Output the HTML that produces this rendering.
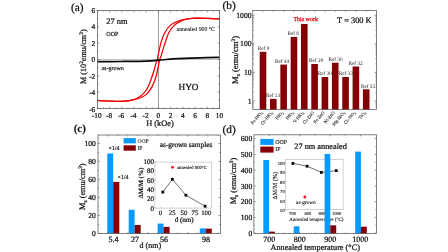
<!DOCTYPE html>
<html lang="en">
<head>
<meta charset="utf-8">
<title>Figure</title>
<style>
html,body{margin:0;padding:0;background:#fff;}
body{width:448px;height:252px;overflow:hidden;font-family:"Liberation Serif",serif;}
svg{display:block;}
</style>
</head>
<body>
<svg width="448" height="252" viewBox="0 0 448 252" font-family="'Liberation Serif', 'Times New Roman', serif" text-rendering="geometricPrecision">
<line x1="97.40" y1="59.50" x2="219.50" y2="59.50" stroke="#aaa" stroke-width="0.7"/>
<line x1="158.45" y1="10.50" x2="158.45" y2="108.50" stroke="#666" stroke-width="0.65"/>
<path d="M219.40,18.90 C217.50,18.82 211.73,18.53 208.00,18.40 C204.27,18.27 200.40,18.02 197.00,18.10 C193.60,18.18 190.75,18.42 187.60,18.90 C184.45,19.38 180.95,19.97 178.10,21.00 C175.25,22.03 172.72,23.13 170.50,25.10 C168.28,27.07 166.38,29.93 164.80,32.80 C163.22,35.67 162.25,37.88 161.00,42.30 C159.75,46.72 158.10,55.92 157.30,59.30 C156.50,62.68 156.85,60.40 156.20,62.60 C155.55,64.80 154.67,68.63 153.40,72.50 C152.13,76.37 150.18,82.35 148.60,85.80 C147.02,89.25 145.80,91.13 143.90,93.20 C142.00,95.27 139.58,96.97 137.20,98.20 C134.82,99.43 132.47,100.07 129.60,100.60 C126.73,101.13 123.60,101.33 120.00,101.40 C116.40,101.47 111.78,101.17 108.00,101.00 C104.22,100.83 99.08,100.50 97.30,100.40" fill="none" stroke="#f00000" stroke-width="1.25" stroke-linejoin="round"/>
<path d="M97.40,100.40 C99.17,100.50 104.23,100.83 108.00,101.00 C111.77,101.17 116.45,101.47 120.00,101.40 C123.55,101.33 126.17,101.08 129.30,100.60 C132.43,100.12 135.95,99.53 138.80,98.50 C141.65,97.47 144.18,96.38 146.40,94.40 C148.62,92.42 150.52,89.50 152.10,86.60 C153.68,83.70 154.63,81.43 155.90,77.00 C157.17,72.57 158.83,63.50 159.70,60.00 C160.57,56.50 160.38,58.32 161.10,56.00 C161.82,53.68 162.72,49.97 164.00,46.10 C165.28,42.23 167.22,36.13 168.80,32.80 C170.38,29.47 171.60,28.00 173.50,26.10 C175.40,24.20 177.82,22.58 180.20,21.40 C182.58,20.22 185.00,19.55 187.80,19.00 C190.60,18.45 193.63,18.20 197.00,18.10 C200.37,18.00 204.25,18.27 208.00,18.40 C211.75,18.53 217.58,18.82 219.50,18.90" fill="none" stroke="#f00000" stroke-width="1.25" stroke-linejoin="round"/>
<path d="M97.40,61.60 C101.17,61.58 112.90,61.55 120.00,61.50 C127.10,61.45 134.67,61.42 140.00,61.30 C145.33,61.18 148.90,60.98 152.00,60.80 C155.10,60.62 156.27,60.42 158.60,60.20 C160.93,59.98 162.77,59.75 166.00,59.50 C169.23,59.25 172.33,58.97 178.00,58.70 C183.67,58.43 193.08,58.12 200.00,57.90 C206.92,57.68 216.25,57.48 219.50,57.40" fill="none" stroke="#0a0a0a" stroke-width="1.7"/>
<rect x="97.40" y="10.50" width="122.10" height="98.00" fill="none" stroke="#555" stroke-width="0.75"/>
<line x1="97.40" y1="108.50" x2="97.40" y2="106.70" stroke="#555" stroke-width="0.6"/>
<line x1="97.40" y1="10.50" x2="97.40" y2="12.30" stroke="#555" stroke-width="0.6"/>
<line x1="103.50" y1="108.50" x2="103.50" y2="107.40" stroke="#555" stroke-width="0.6"/>
<line x1="103.50" y1="10.50" x2="103.50" y2="11.60" stroke="#555" stroke-width="0.6"/>
<line x1="109.61" y1="108.50" x2="109.61" y2="106.70" stroke="#555" stroke-width="0.6"/>
<line x1="109.61" y1="10.50" x2="109.61" y2="12.30" stroke="#555" stroke-width="0.6"/>
<line x1="115.71" y1="108.50" x2="115.71" y2="107.40" stroke="#555" stroke-width="0.6"/>
<line x1="115.71" y1="10.50" x2="115.71" y2="11.60" stroke="#555" stroke-width="0.6"/>
<line x1="121.82" y1="108.50" x2="121.82" y2="106.70" stroke="#555" stroke-width="0.6"/>
<line x1="121.82" y1="10.50" x2="121.82" y2="12.30" stroke="#555" stroke-width="0.6"/>
<line x1="127.92" y1="108.50" x2="127.92" y2="107.40" stroke="#555" stroke-width="0.6"/>
<line x1="127.92" y1="10.50" x2="127.92" y2="11.60" stroke="#555" stroke-width="0.6"/>
<line x1="134.03" y1="108.50" x2="134.03" y2="106.70" stroke="#555" stroke-width="0.6"/>
<line x1="134.03" y1="10.50" x2="134.03" y2="12.30" stroke="#555" stroke-width="0.6"/>
<line x1="140.13" y1="108.50" x2="140.13" y2="107.40" stroke="#555" stroke-width="0.6"/>
<line x1="140.13" y1="10.50" x2="140.13" y2="11.60" stroke="#555" stroke-width="0.6"/>
<line x1="146.24" y1="108.50" x2="146.24" y2="106.70" stroke="#555" stroke-width="0.6"/>
<line x1="146.24" y1="10.50" x2="146.24" y2="12.30" stroke="#555" stroke-width="0.6"/>
<line x1="152.34" y1="108.50" x2="152.34" y2="107.40" stroke="#555" stroke-width="0.6"/>
<line x1="152.34" y1="10.50" x2="152.34" y2="11.60" stroke="#555" stroke-width="0.6"/>
<line x1="158.45" y1="108.50" x2="158.45" y2="106.70" stroke="#555" stroke-width="0.6"/>
<line x1="158.45" y1="10.50" x2="158.45" y2="12.30" stroke="#555" stroke-width="0.6"/>
<line x1="164.55" y1="108.50" x2="164.55" y2="107.40" stroke="#555" stroke-width="0.6"/>
<line x1="164.55" y1="10.50" x2="164.55" y2="11.60" stroke="#555" stroke-width="0.6"/>
<line x1="170.66" y1="108.50" x2="170.66" y2="106.70" stroke="#555" stroke-width="0.6"/>
<line x1="170.66" y1="10.50" x2="170.66" y2="12.30" stroke="#555" stroke-width="0.6"/>
<line x1="176.76" y1="108.50" x2="176.76" y2="107.40" stroke="#555" stroke-width="0.6"/>
<line x1="176.76" y1="10.50" x2="176.76" y2="11.60" stroke="#555" stroke-width="0.6"/>
<line x1="182.87" y1="108.50" x2="182.87" y2="106.70" stroke="#555" stroke-width="0.6"/>
<line x1="182.87" y1="10.50" x2="182.87" y2="12.30" stroke="#555" stroke-width="0.6"/>
<line x1="188.97" y1="108.50" x2="188.97" y2="107.40" stroke="#555" stroke-width="0.6"/>
<line x1="188.97" y1="10.50" x2="188.97" y2="11.60" stroke="#555" stroke-width="0.6"/>
<line x1="195.08" y1="108.50" x2="195.08" y2="106.70" stroke="#555" stroke-width="0.6"/>
<line x1="195.08" y1="10.50" x2="195.08" y2="12.30" stroke="#555" stroke-width="0.6"/>
<line x1="201.19" y1="108.50" x2="201.19" y2="107.40" stroke="#555" stroke-width="0.6"/>
<line x1="201.19" y1="10.50" x2="201.19" y2="11.60" stroke="#555" stroke-width="0.6"/>
<line x1="207.29" y1="108.50" x2="207.29" y2="106.70" stroke="#555" stroke-width="0.6"/>
<line x1="207.29" y1="10.50" x2="207.29" y2="12.30" stroke="#555" stroke-width="0.6"/>
<line x1="213.39" y1="108.50" x2="213.39" y2="107.40" stroke="#555" stroke-width="0.6"/>
<line x1="213.39" y1="10.50" x2="213.39" y2="11.60" stroke="#555" stroke-width="0.6"/>
<line x1="219.50" y1="108.50" x2="219.50" y2="106.70" stroke="#555" stroke-width="0.6"/>
<line x1="219.50" y1="10.50" x2="219.50" y2="12.30" stroke="#555" stroke-width="0.6"/>
<line x1="97.40" y1="108.50" x2="99.20" y2="108.50" stroke="#555" stroke-width="0.6"/>
<line x1="219.50" y1="108.50" x2="217.70" y2="108.50" stroke="#555" stroke-width="0.6"/>
<line x1="97.40" y1="100.33" x2="98.50" y2="100.33" stroke="#555" stroke-width="0.6"/>
<line x1="219.50" y1="100.33" x2="218.40" y2="100.33" stroke="#555" stroke-width="0.6"/>
<line x1="97.40" y1="92.17" x2="99.20" y2="92.17" stroke="#555" stroke-width="0.6"/>
<line x1="219.50" y1="92.17" x2="217.70" y2="92.17" stroke="#555" stroke-width="0.6"/>
<line x1="97.40" y1="84.00" x2="98.50" y2="84.00" stroke="#555" stroke-width="0.6"/>
<line x1="219.50" y1="84.00" x2="218.40" y2="84.00" stroke="#555" stroke-width="0.6"/>
<line x1="97.40" y1="75.83" x2="99.20" y2="75.83" stroke="#555" stroke-width="0.6"/>
<line x1="219.50" y1="75.83" x2="217.70" y2="75.83" stroke="#555" stroke-width="0.6"/>
<line x1="97.40" y1="67.67" x2="98.50" y2="67.67" stroke="#555" stroke-width="0.6"/>
<line x1="219.50" y1="67.67" x2="218.40" y2="67.67" stroke="#555" stroke-width="0.6"/>
<line x1="97.40" y1="59.50" x2="99.20" y2="59.50" stroke="#555" stroke-width="0.6"/>
<line x1="219.50" y1="59.50" x2="217.70" y2="59.50" stroke="#555" stroke-width="0.6"/>
<line x1="97.40" y1="51.33" x2="98.50" y2="51.33" stroke="#555" stroke-width="0.6"/>
<line x1="219.50" y1="51.33" x2="218.40" y2="51.33" stroke="#555" stroke-width="0.6"/>
<line x1="97.40" y1="43.17" x2="99.20" y2="43.17" stroke="#555" stroke-width="0.6"/>
<line x1="219.50" y1="43.17" x2="217.70" y2="43.17" stroke="#555" stroke-width="0.6"/>
<line x1="97.40" y1="35.00" x2="98.50" y2="35.00" stroke="#555" stroke-width="0.6"/>
<line x1="219.50" y1="35.00" x2="218.40" y2="35.00" stroke="#555" stroke-width="0.6"/>
<line x1="97.40" y1="26.83" x2="99.20" y2="26.83" stroke="#555" stroke-width="0.6"/>
<line x1="219.50" y1="26.83" x2="217.70" y2="26.83" stroke="#555" stroke-width="0.6"/>
<line x1="97.40" y1="18.67" x2="98.50" y2="18.67" stroke="#555" stroke-width="0.6"/>
<line x1="219.50" y1="18.67" x2="218.40" y2="18.67" stroke="#555" stroke-width="0.6"/>
<line x1="97.40" y1="10.50" x2="99.20" y2="10.50" stroke="#555" stroke-width="0.6"/>
<line x1="219.50" y1="10.50" x2="217.70" y2="10.50" stroke="#555" stroke-width="0.6"/>
<text x="96.80" y="117.70" font-size="7.4" text-anchor="middle" font-weight="normal" font-style="normal" fill="#111" stroke="#111" stroke-width="0.24">-10</text>
<text x="109.01" y="117.70" font-size="7.4" text-anchor="middle" font-weight="normal" font-style="normal" fill="#111" stroke="#111" stroke-width="0.24">-8</text>
<text x="121.22" y="117.70" font-size="7.4" text-anchor="middle" font-weight="normal" font-style="normal" fill="#111" stroke="#111" stroke-width="0.24">-6</text>
<text x="133.43" y="117.70" font-size="7.4" text-anchor="middle" font-weight="normal" font-style="normal" fill="#111" stroke="#111" stroke-width="0.24">-4</text>
<text x="145.64" y="117.70" font-size="7.4" text-anchor="middle" font-weight="normal" font-style="normal" fill="#111" stroke="#111" stroke-width="0.24">-2</text>
<text x="158.45" y="117.70" font-size="7.4" text-anchor="middle" font-weight="normal" font-style="normal" fill="#111" stroke="#111" stroke-width="0.24">0</text>
<text x="170.66" y="117.70" font-size="7.4" text-anchor="middle" font-weight="normal" font-style="normal" fill="#111" stroke="#111" stroke-width="0.24">2</text>
<text x="182.87" y="117.70" font-size="7.4" text-anchor="middle" font-weight="normal" font-style="normal" fill="#111" stroke="#111" stroke-width="0.24">4</text>
<text x="195.08" y="117.70" font-size="7.4" text-anchor="middle" font-weight="normal" font-style="normal" fill="#111" stroke="#111" stroke-width="0.24">6</text>
<text x="207.29" y="117.70" font-size="7.4" text-anchor="middle" font-weight="normal" font-style="normal" fill="#111" stroke="#111" stroke-width="0.24">8</text>
<text x="219.50" y="117.70" font-size="7.4" text-anchor="middle" font-weight="normal" font-style="normal" fill="#111" stroke="#111" stroke-width="0.24">10</text>
<text x="95.30" y="111.50" font-size="7.4" text-anchor="end" font-weight="normal" font-style="normal" fill="#111" stroke="#111" stroke-width="0.24">-6</text>
<text x="95.30" y="95.17" font-size="7.4" text-anchor="end" font-weight="normal" font-style="normal" fill="#111" stroke="#111" stroke-width="0.24">-4</text>
<text x="95.30" y="78.83" font-size="7.4" text-anchor="end" font-weight="normal" font-style="normal" fill="#111" stroke="#111" stroke-width="0.24">-2</text>
<text x="95.30" y="62.15" font-size="7.4" text-anchor="end" font-weight="normal" font-style="normal" fill="#111" stroke="#111" stroke-width="0.24">0</text>
<text x="95.30" y="45.82" font-size="7.4" text-anchor="end" font-weight="normal" font-style="normal" fill="#111" stroke="#111" stroke-width="0.24">2</text>
<text x="95.30" y="29.48" font-size="7.4" text-anchor="end" font-weight="normal" font-style="normal" fill="#111" stroke="#111" stroke-width="0.24">4</text>
<text x="95.30" y="13.15" font-size="7.4" text-anchor="end" font-weight="normal" font-style="normal" fill="#111" stroke="#111" stroke-width="0.24">6</text>
<text x="160.00" y="126.10" font-size="8.4" text-anchor="middle" font-weight="normal" font-style="normal" fill="#111" stroke="#111" stroke-width="0.24">H (kOe)</text>
<text x="86.20" y="56.70" font-size="8.2" text-anchor="middle" font-weight="normal" font-style="normal" fill="#111" stroke="#111" stroke-width="0.24" transform="rotate(-90 86.20 56.70)">M (10<tspan font-size="5.3" dy="-2.92">2</tspan><tspan dy="2.92">&#8203;</tspan>emu/cm<tspan font-size="5.3" dy="-2.92">3</tspan><tspan dy="2.92">&#8203;</tspan>)</text>
<text x="71.00" y="10.60" font-size="11.3" text-anchor="start" font-weight="normal" font-style="normal" fill="#111" stroke="#111" stroke-width="0.24">(a)</text>
<text x="106.30" y="23.90" font-size="8.4" text-anchor="start" font-weight="normal" font-style="normal" fill="#111" stroke="#111" stroke-width="0.24">27 nm</text>
<text x="106.20" y="35.80" font-size="6.2" text-anchor="start" font-weight="normal" font-style="normal" fill="#111" stroke="#111" stroke-width="0.18">OOP</text>
<text x="101.40" y="69.70" font-size="6.0" text-anchor="start" font-weight="normal" font-style="normal" fill="#111" stroke="#111" stroke-width="0.18">as-grown</text>
<text x="176.60" y="31.20" font-size="5.8" text-anchor="start" font-weight="normal" font-style="normal" fill="#111" stroke="#111" stroke-width="0.1">annealed 900 &#176;C</text>
<text x="178.60" y="89.90" font-size="9.2" text-anchor="start" font-weight="normal" font-style="normal" fill="#111" stroke="#111" stroke-width="0.24">HYO</text>
<rect x="252.80" y="10.40" width="123.60" height="99.00" fill="none" stroke="#555" stroke-width="0.75"/>
<line x1="252.80" y1="107.23" x2="253.80" y2="107.23" stroke="#555" stroke-width="0.55"/>
<line x1="376.40" y1="107.23" x2="375.40" y2="107.23" stroke="#555" stroke-width="0.55"/>
<line x1="252.80" y1="105.32" x2="253.80" y2="105.32" stroke="#555" stroke-width="0.55"/>
<line x1="376.40" y1="105.32" x2="375.40" y2="105.32" stroke="#555" stroke-width="0.55"/>
<line x1="252.80" y1="103.67" x2="253.80" y2="103.67" stroke="#555" stroke-width="0.55"/>
<line x1="376.40" y1="103.67" x2="375.40" y2="103.67" stroke="#555" stroke-width="0.55"/>
<line x1="252.80" y1="102.21" x2="253.80" y2="102.21" stroke="#555" stroke-width="0.55"/>
<line x1="376.40" y1="102.21" x2="375.40" y2="102.21" stroke="#555" stroke-width="0.55"/>
<line x1="252.80" y1="100.90" x2="254.80" y2="100.90" stroke="#555" stroke-width="0.55"/>
<line x1="376.40" y1="100.90" x2="374.40" y2="100.90" stroke="#555" stroke-width="0.55"/>
<line x1="252.80" y1="92.31" x2="253.80" y2="92.31" stroke="#555" stroke-width="0.55"/>
<line x1="376.40" y1="92.31" x2="375.40" y2="92.31" stroke="#555" stroke-width="0.55"/>
<line x1="252.80" y1="87.28" x2="253.80" y2="87.28" stroke="#555" stroke-width="0.55"/>
<line x1="376.40" y1="87.28" x2="375.40" y2="87.28" stroke="#555" stroke-width="0.55"/>
<line x1="252.80" y1="83.71" x2="253.80" y2="83.71" stroke="#555" stroke-width="0.55"/>
<line x1="376.40" y1="83.71" x2="375.40" y2="83.71" stroke="#555" stroke-width="0.55"/>
<line x1="252.80" y1="80.94" x2="253.80" y2="80.94" stroke="#555" stroke-width="0.55"/>
<line x1="376.40" y1="80.94" x2="375.40" y2="80.94" stroke="#555" stroke-width="0.55"/>
<line x1="252.80" y1="78.68" x2="253.80" y2="78.68" stroke="#555" stroke-width="0.55"/>
<line x1="376.40" y1="78.68" x2="375.40" y2="78.68" stroke="#555" stroke-width="0.55"/>
<line x1="252.80" y1="76.77" x2="253.80" y2="76.77" stroke="#555" stroke-width="0.55"/>
<line x1="376.40" y1="76.77" x2="375.40" y2="76.77" stroke="#555" stroke-width="0.55"/>
<line x1="252.80" y1="75.12" x2="253.80" y2="75.12" stroke="#555" stroke-width="0.55"/>
<line x1="376.40" y1="75.12" x2="375.40" y2="75.12" stroke="#555" stroke-width="0.55"/>
<line x1="252.80" y1="73.66" x2="253.80" y2="73.66" stroke="#555" stroke-width="0.55"/>
<line x1="376.40" y1="73.66" x2="375.40" y2="73.66" stroke="#555" stroke-width="0.55"/>
<line x1="252.80" y1="72.35" x2="254.80" y2="72.35" stroke="#555" stroke-width="0.55"/>
<line x1="376.40" y1="72.35" x2="374.40" y2="72.35" stroke="#555" stroke-width="0.55"/>
<line x1="252.80" y1="63.76" x2="253.80" y2="63.76" stroke="#555" stroke-width="0.55"/>
<line x1="376.40" y1="63.76" x2="375.40" y2="63.76" stroke="#555" stroke-width="0.55"/>
<line x1="252.80" y1="58.73" x2="253.80" y2="58.73" stroke="#555" stroke-width="0.55"/>
<line x1="376.40" y1="58.73" x2="375.40" y2="58.73" stroke="#555" stroke-width="0.55"/>
<line x1="252.80" y1="55.16" x2="253.80" y2="55.16" stroke="#555" stroke-width="0.55"/>
<line x1="376.40" y1="55.16" x2="375.40" y2="55.16" stroke="#555" stroke-width="0.55"/>
<line x1="252.80" y1="52.39" x2="253.80" y2="52.39" stroke="#555" stroke-width="0.55"/>
<line x1="376.40" y1="52.39" x2="375.40" y2="52.39" stroke="#555" stroke-width="0.55"/>
<line x1="252.80" y1="50.13" x2="253.80" y2="50.13" stroke="#555" stroke-width="0.55"/>
<line x1="376.40" y1="50.13" x2="375.40" y2="50.13" stroke="#555" stroke-width="0.55"/>
<line x1="252.80" y1="48.22" x2="253.80" y2="48.22" stroke="#555" stroke-width="0.55"/>
<line x1="376.40" y1="48.22" x2="375.40" y2="48.22" stroke="#555" stroke-width="0.55"/>
<line x1="252.80" y1="46.57" x2="253.80" y2="46.57" stroke="#555" stroke-width="0.55"/>
<line x1="376.40" y1="46.57" x2="375.40" y2="46.57" stroke="#555" stroke-width="0.55"/>
<line x1="252.80" y1="45.11" x2="253.80" y2="45.11" stroke="#555" stroke-width="0.55"/>
<line x1="376.40" y1="45.11" x2="375.40" y2="45.11" stroke="#555" stroke-width="0.55"/>
<line x1="252.80" y1="43.80" x2="254.80" y2="43.80" stroke="#555" stroke-width="0.55"/>
<line x1="376.40" y1="43.80" x2="374.40" y2="43.80" stroke="#555" stroke-width="0.55"/>
<line x1="252.80" y1="35.21" x2="253.80" y2="35.21" stroke="#555" stroke-width="0.55"/>
<line x1="376.40" y1="35.21" x2="375.40" y2="35.21" stroke="#555" stroke-width="0.55"/>
<line x1="252.80" y1="30.18" x2="253.80" y2="30.18" stroke="#555" stroke-width="0.55"/>
<line x1="376.40" y1="30.18" x2="375.40" y2="30.18" stroke="#555" stroke-width="0.55"/>
<line x1="252.80" y1="26.61" x2="253.80" y2="26.61" stroke="#555" stroke-width="0.55"/>
<line x1="376.40" y1="26.61" x2="375.40" y2="26.61" stroke="#555" stroke-width="0.55"/>
<line x1="252.80" y1="23.84" x2="253.80" y2="23.84" stroke="#555" stroke-width="0.55"/>
<line x1="376.40" y1="23.84" x2="375.40" y2="23.84" stroke="#555" stroke-width="0.55"/>
<line x1="252.80" y1="21.58" x2="253.80" y2="21.58" stroke="#555" stroke-width="0.55"/>
<line x1="376.40" y1="21.58" x2="375.40" y2="21.58" stroke="#555" stroke-width="0.55"/>
<line x1="252.80" y1="19.67" x2="253.80" y2="19.67" stroke="#555" stroke-width="0.55"/>
<line x1="376.40" y1="19.67" x2="375.40" y2="19.67" stroke="#555" stroke-width="0.55"/>
<line x1="252.80" y1="18.02" x2="253.80" y2="18.02" stroke="#555" stroke-width="0.55"/>
<line x1="376.40" y1="18.02" x2="375.40" y2="18.02" stroke="#555" stroke-width="0.55"/>
<line x1="252.80" y1="16.56" x2="253.80" y2="16.56" stroke="#555" stroke-width="0.55"/>
<line x1="376.40" y1="16.56" x2="375.40" y2="16.56" stroke="#555" stroke-width="0.55"/>
<line x1="252.80" y1="15.25" x2="254.80" y2="15.25" stroke="#555" stroke-width="0.55"/>
<line x1="376.40" y1="15.25" x2="374.40" y2="15.25" stroke="#555" stroke-width="0.55"/>
<text x="251.60" y="103.50" font-size="7.7" text-anchor="end" font-weight="normal" font-style="normal" fill="#111" stroke="#111" stroke-width="0.24">1</text>
<text x="251.60" y="74.95" font-size="7.7" text-anchor="end" font-weight="normal" font-style="normal" fill="#111" stroke="#111" stroke-width="0.24">10</text>
<text x="251.60" y="46.40" font-size="7.7" text-anchor="end" font-weight="normal" font-style="normal" fill="#111" stroke="#111" stroke-width="0.24">100</text>
<text x="251.60" y="17.85" font-size="7.7" text-anchor="end" font-weight="normal" font-style="normal" fill="#111" stroke="#111" stroke-width="0.24">1000</text>
<rect x="259.70" y="51.80" width="6.60" height="57.60" fill="#850004"/>
<line x1="263.00" y1="10.40" x2="263.00" y2="11.90" stroke="#555" stroke-width="0.55"/>
<text x="263.50" y="50.20" font-size="5.25" text-anchor="middle" font-weight="normal" font-style="normal" fill="#1c1c1c" stroke="#1c1c1c" stroke-width="0">Ref 9</text>
<text x="262.80" y="112.80" font-size="4.5" text-anchor="end" font-weight="normal" font-style="normal" fill="#222" stroke="#222" stroke-width="0.1" transform="rotate(-50 262.80 112.80)">Fe-HfO<tspan font-size="3.0" dy="0.9">2</tspan></text>
<rect x="270.02" y="98.90" width="6.60" height="10.50" fill="#850004"/>
<line x1="273.32" y1="10.40" x2="273.32" y2="11.90" stroke="#555" stroke-width="0.55"/>
<text x="273.02" y="97.30" font-size="5.25" text-anchor="middle" font-weight="normal" font-style="normal" fill="#1c1c1c" stroke="#1c1c1c" stroke-width="0">Ref 13</text>
<text x="273.12" y="112.80" font-size="4.5" text-anchor="end" font-weight="normal" font-style="normal" fill="#222" stroke="#222" stroke-width="0.1" transform="rotate(-50 273.12 112.80)">Co-HfO<tspan font-size="3.0" dy="0.9">2</tspan></text>
<rect x="280.34" y="64.60" width="6.60" height="44.80" fill="#850004"/>
<line x1="283.64" y1="10.40" x2="283.64" y2="11.90" stroke="#555" stroke-width="0.55"/>
<text x="282.14" y="63.00" font-size="5.25" text-anchor="middle" font-weight="normal" font-style="normal" fill="#1c1c1c" stroke="#1c1c1c" stroke-width="0">Ref 44</text>
<text x="283.44" y="112.80" font-size="4.5" text-anchor="end" font-weight="normal" font-style="normal" fill="#222" stroke="#222" stroke-width="0.1" transform="rotate(-50 283.44 112.80)">HfO<tspan font-size="3.0" dy="0.9">2</tspan></text>
<rect x="290.66" y="37.00" width="6.60" height="72.40" fill="#850004"/>
<line x1="293.96" y1="10.40" x2="293.96" y2="11.90" stroke="#555" stroke-width="0.55"/>
<text x="293.16" y="35.40" font-size="5.25" text-anchor="middle" font-weight="normal" font-style="normal" fill="#1c1c1c" stroke="#1c1c1c" stroke-width="0">Ref 8</text>
<text x="293.76" y="112.80" font-size="4.5" text-anchor="end" font-weight="normal" font-style="normal" fill="#222" stroke="#222" stroke-width="0.1" transform="rotate(-50 293.76 112.80)">HfO<tspan font-size="3.0" dy="0.9">2</tspan></text>
<rect x="300.98" y="24.00" width="6.60" height="85.40" fill="#850004"/>
<line x1="304.28" y1="10.40" x2="304.28" y2="11.90" stroke="#555" stroke-width="0.55"/>
<text x="305.70" y="20.90" font-size="6.0" text-anchor="middle" font-weight="normal" font-style="normal" fill="#f2101c" stroke="#f2101c" stroke-width="0.3">This work</text>
<text x="304.08" y="112.80" font-size="4.5" text-anchor="end" font-weight="normal" font-style="normal" fill="#222" stroke="#222" stroke-width="0.1" transform="rotate(-50 304.08 112.80)">Y-HfO<tspan font-size="3.0" dy="0.9">2</tspan></text>
<rect x="311.30" y="64.00" width="6.60" height="45.40" fill="#850004"/>
<line x1="314.60" y1="10.40" x2="314.60" y2="11.90" stroke="#555" stroke-width="0.55"/>
<text x="316.20" y="62.40" font-size="5.25" text-anchor="middle" font-weight="normal" font-style="normal" fill="#1c1c1c" stroke="#1c1c1c" stroke-width="0">Ref 29</text>
<text x="314.40" y="112.80" font-size="4.5" text-anchor="end" font-weight="normal" font-style="normal" fill="#222" stroke="#222" stroke-width="0.1" transform="rotate(-50 314.40 112.80)">Co-ZnO</text>
<rect x="321.62" y="77.00" width="6.60" height="32.40" fill="#850004"/>
<line x1="324.92" y1="10.40" x2="324.92" y2="11.90" stroke="#555" stroke-width="0.55"/>
<text x="324.82" y="75.40" font-size="5.25" text-anchor="middle" font-weight="normal" font-style="normal" fill="#1c1c1c" stroke="#1c1c1c" stroke-width="0">Ref 30</text>
<text x="324.72" y="112.80" font-size="4.5" text-anchor="end" font-weight="normal" font-style="normal" fill="#222" stroke="#222" stroke-width="0.1" transform="rotate(-50 324.72 112.80)">Fe-ZnO</text>
<rect x="331.94" y="62.70" width="6.60" height="46.70" fill="#850004"/>
<line x1="335.24" y1="10.40" x2="335.24" y2="11.90" stroke="#555" stroke-width="0.55"/>
<text x="335.54" y="61.10" font-size="5.25" text-anchor="middle" font-weight="normal" font-style="normal" fill="#1c1c1c" stroke="#1c1c1c" stroke-width="0">Ref 30</text>
<text x="335.04" y="112.80" font-size="4.5" text-anchor="end" font-weight="normal" font-style="normal" fill="#222" stroke="#222" stroke-width="0.1" transform="rotate(-50 335.04 112.80)">Ni-ZnO</text>
<rect x="342.26" y="77.00" width="6.60" height="32.40" fill="#850004"/>
<line x1="345.56" y1="10.40" x2="345.56" y2="11.90" stroke="#555" stroke-width="0.55"/>
<text x="345.76" y="75.40" font-size="5.25" text-anchor="middle" font-weight="normal" font-style="normal" fill="#1c1c1c" stroke="#1c1c1c" stroke-width="0">Ref 33</text>
<text x="345.36" y="112.80" font-size="4.5" text-anchor="end" font-weight="normal" font-style="normal" fill="#222" stroke="#222" stroke-width="0.1" transform="rotate(-50 345.36 112.80)">Mg-SnO<tspan font-size="3.0" dy="0.9">2</tspan></text>
<rect x="352.58" y="66.50" width="6.60" height="42.90" fill="#850004"/>
<line x1="355.88" y1="10.40" x2="355.88" y2="11.90" stroke="#555" stroke-width="0.55"/>
<text x="355.58" y="64.90" font-size="5.25" text-anchor="middle" font-weight="normal" font-style="normal" fill="#1c1c1c" stroke="#1c1c1c" stroke-width="0">Ref 32</text>
<text x="355.68" y="112.80" font-size="4.5" text-anchor="end" font-weight="normal" font-style="normal" fill="#222" stroke="#222" stroke-width="0.1" transform="rotate(-50 355.68 112.80)">Co-TiO<tspan font-size="3.0" dy="0.9">2</tspan></text>
<rect x="362.90" y="89.30" width="6.60" height="20.10" fill="#850004"/>
<line x1="366.20" y1="10.40" x2="366.20" y2="11.90" stroke="#555" stroke-width="0.55"/>
<text x="368.00" y="87.70" font-size="5.25" text-anchor="middle" font-weight="normal" font-style="normal" fill="#1c1c1c" stroke="#1c1c1c" stroke-width="0">Ref 33</text>
<text x="366.00" y="112.80" font-size="4.5" text-anchor="end" font-weight="normal" font-style="normal" fill="#222" stroke="#222" stroke-width="0.1" transform="rotate(-50 366.00 112.80)">TiO<tspan font-size="3.0" dy="0.9">2</tspan></text>
<text x="238.00" y="60.00" font-size="8.6" text-anchor="middle" font-weight="normal" font-style="normal" fill="#111" stroke="#111" stroke-width="0.24" transform="rotate(-90 238.00 60.00)">M<tspan font-size="5.5" dy="1.92">s</tspan><tspan dy="-1.92">&#8203;</tspan> (emu/cm<tspan font-size="5.3" dy="-2.92">3</tspan><tspan dy="2.92">&#8203;</tspan>)</text>
<text x="222.60" y="9.00" font-size="11.3" text-anchor="start" font-weight="normal" font-style="normal" fill="#111" stroke="#111" stroke-width="0.24">(b)</text>
<text x="337.10" y="23.40" font-size="8.4" text-anchor="start" font-weight="normal" font-style="normal" fill="#111" stroke="#111" stroke-width="0.24">T = 300 K</text>
<rect x="154.90" y="162.10" width="56.50" height="46.00" fill="none" stroke="#b4b4b4" stroke-width="0.6"/>
<polyline points="162.8,192.1 172.4,179.3 185.9,195.2 205.1,206.2" fill="none" stroke="#333" stroke-width="0.7"/>
<rect x="161.40" y="190.70" width="2.80" height="2.80" fill="#0a0a0a"/>
<rect x="171.00" y="177.90" width="2.80" height="2.80" fill="#0a0a0a"/>
<rect x="184.50" y="193.80" width="2.80" height="2.80" fill="#0a0a0a"/>
<rect x="203.70" y="204.80" width="2.80" height="2.80" fill="#0a0a0a"/>
<circle cx="172.5" cy="167.3" r="1.4" fill="#f01010"/>
<text x="177.00" y="168.80" font-size="4.7" text-anchor="start" font-weight="normal" font-style="normal" fill="#111" stroke="#111" stroke-width="0.1">annealed 900&#176;C</text>
<text x="154.10" y="210.50" font-size="7.0" text-anchor="end" font-weight="normal" font-style="normal" fill="#111" stroke="#111" stroke-width="0.24">0</text>
<line x1="154.90" y1="208.10" x2="156.10" y2="208.10" stroke="#aaa" stroke-width="0.5"/>
<text x="154.10" y="201.20" font-size="7.0" text-anchor="end" font-weight="normal" font-style="normal" fill="#111" stroke="#111" stroke-width="0.24">20</text>
<line x1="154.90" y1="198.80" x2="156.10" y2="198.80" stroke="#aaa" stroke-width="0.5"/>
<text x="154.10" y="191.90" font-size="7.0" text-anchor="end" font-weight="normal" font-style="normal" fill="#111" stroke="#111" stroke-width="0.24">40</text>
<line x1="154.90" y1="189.50" x2="156.10" y2="189.50" stroke="#aaa" stroke-width="0.5"/>
<text x="154.10" y="182.60" font-size="7.0" text-anchor="end" font-weight="normal" font-style="normal" fill="#111" stroke="#111" stroke-width="0.24">60</text>
<line x1="154.90" y1="180.20" x2="156.10" y2="180.20" stroke="#aaa" stroke-width="0.5"/>
<text x="154.10" y="173.30" font-size="7.0" text-anchor="end" font-weight="normal" font-style="normal" fill="#111" stroke="#111" stroke-width="0.24">80</text>
<line x1="154.90" y1="170.90" x2="156.10" y2="170.90" stroke="#aaa" stroke-width="0.5"/>
<text x="154.10" y="164.00" font-size="7.0" text-anchor="end" font-weight="normal" font-style="normal" fill="#111" stroke="#111" stroke-width="0.24">100</text>
<line x1="154.90" y1="161.60" x2="156.10" y2="161.60" stroke="#aaa" stroke-width="0.5"/>
<text x="160.50" y="214.70" font-size="6.8" text-anchor="middle" font-weight="normal" font-style="normal" fill="#111" stroke="#111" stroke-width="0.18">0</text>
<line x1="160.50" y1="208.10" x2="160.50" y2="206.90" stroke="#aaa" stroke-width="0.5"/>
<text x="172.25" y="214.70" font-size="6.8" text-anchor="middle" font-weight="normal" font-style="normal" fill="#111" stroke="#111" stroke-width="0.18">25</text>
<line x1="172.25" y1="208.10" x2="172.25" y2="206.90" stroke="#aaa" stroke-width="0.5"/>
<text x="184.00" y="214.70" font-size="6.8" text-anchor="middle" font-weight="normal" font-style="normal" fill="#111" stroke="#111" stroke-width="0.18">50</text>
<line x1="184.00" y1="208.10" x2="184.00" y2="206.90" stroke="#aaa" stroke-width="0.5"/>
<text x="194.95" y="214.70" font-size="6.8" text-anchor="middle" font-weight="normal" font-style="normal" fill="#111" stroke="#111" stroke-width="0.18">75</text>
<line x1="195.75" y1="208.10" x2="195.75" y2="206.90" stroke="#aaa" stroke-width="0.5"/>
<text x="206.30" y="214.70" font-size="6.8" text-anchor="middle" font-weight="normal" font-style="normal" fill="#111" stroke="#111" stroke-width="0.18">100</text>
<line x1="207.50" y1="208.10" x2="207.50" y2="206.90" stroke="#aaa" stroke-width="0.5"/>
<text x="184.20" y="221.60" font-size="7.1" text-anchor="middle" font-weight="normal" font-style="normal" fill="#111" stroke="#111" stroke-width="0.24">d (nm)</text>
<text x="143.00" y="183.00" font-size="6.5" text-anchor="middle" font-weight="bold" font-style="normal" fill="#111" stroke="#111" stroke-width="0.12" transform="rotate(-90 143.00 183.00)">&#916;M/M (%)</text>
<rect x="107.30" y="153.49" width="5.90" height="80.01" fill="#0699ff"/>
<rect x="113.20" y="181.93" width="6.10" height="51.57" fill="#850004"/>
<rect x="128.70" y="209.74" width="5.90" height="23.76" fill="#0699ff"/>
<rect x="134.60" y="224.95" width="6.10" height="8.55" fill="#850004"/>
<rect x="157.60" y="223.60" width="5.90" height="9.90" fill="#0699ff"/>
<rect x="163.50" y="226.93" width="6.10" height="6.57" fill="#850004"/>
<rect x="199.80" y="228.37" width="5.90" height="5.13" fill="#0699ff"/>
<rect x="205.70" y="228.64" width="6.10" height="4.86" fill="#850004"/>
<rect x="98.00" y="135.00" width="122.40" height="98.50" fill="none" stroke="#555" stroke-width="0.75"/>
<line x1="98.00" y1="233.50" x2="99.80" y2="233.50" stroke="#555" stroke-width="0.6"/>
<line x1="220.40" y1="233.50" x2="218.60" y2="233.50" stroke="#555" stroke-width="0.6"/>
<text x="95.80" y="236.10" font-size="7.6" text-anchor="end" font-weight="normal" font-style="normal" fill="#111" stroke="#111" stroke-width="0.24">0</text>
<line x1="98.00" y1="224.50" x2="99.10" y2="224.50" stroke="#555" stroke-width="0.6"/>
<line x1="220.40" y1="224.50" x2="219.30" y2="224.50" stroke="#555" stroke-width="0.6"/>
<line x1="98.00" y1="215.50" x2="99.80" y2="215.50" stroke="#555" stroke-width="0.6"/>
<line x1="220.40" y1="215.50" x2="218.60" y2="215.50" stroke="#555" stroke-width="0.6"/>
<text x="95.80" y="218.10" font-size="7.6" text-anchor="end" font-weight="normal" font-style="normal" fill="#111" stroke="#111" stroke-width="0.24">20</text>
<line x1="98.00" y1="206.50" x2="99.10" y2="206.50" stroke="#555" stroke-width="0.6"/>
<line x1="220.40" y1="206.50" x2="219.30" y2="206.50" stroke="#555" stroke-width="0.6"/>
<line x1="98.00" y1="197.50" x2="99.80" y2="197.50" stroke="#555" stroke-width="0.6"/>
<line x1="220.40" y1="197.50" x2="218.60" y2="197.50" stroke="#555" stroke-width="0.6"/>
<text x="95.80" y="200.10" font-size="7.6" text-anchor="end" font-weight="normal" font-style="normal" fill="#111" stroke="#111" stroke-width="0.24">40</text>
<line x1="98.00" y1="188.50" x2="99.10" y2="188.50" stroke="#555" stroke-width="0.6"/>
<line x1="220.40" y1="188.50" x2="219.30" y2="188.50" stroke="#555" stroke-width="0.6"/>
<line x1="98.00" y1="179.50" x2="99.80" y2="179.50" stroke="#555" stroke-width="0.6"/>
<line x1="220.40" y1="179.50" x2="218.60" y2="179.50" stroke="#555" stroke-width="0.6"/>
<text x="95.80" y="182.10" font-size="7.6" text-anchor="end" font-weight="normal" font-style="normal" fill="#111" stroke="#111" stroke-width="0.24">60</text>
<line x1="98.00" y1="170.50" x2="99.10" y2="170.50" stroke="#555" stroke-width="0.6"/>
<line x1="220.40" y1="170.50" x2="219.30" y2="170.50" stroke="#555" stroke-width="0.6"/>
<line x1="98.00" y1="161.50" x2="99.80" y2="161.50" stroke="#555" stroke-width="0.6"/>
<line x1="220.40" y1="161.50" x2="218.60" y2="161.50" stroke="#555" stroke-width="0.6"/>
<text x="95.80" y="164.10" font-size="7.6" text-anchor="end" font-weight="normal" font-style="normal" fill="#111" stroke="#111" stroke-width="0.24">80</text>
<line x1="98.00" y1="152.50" x2="99.10" y2="152.50" stroke="#555" stroke-width="0.6"/>
<line x1="220.40" y1="152.50" x2="219.30" y2="152.50" stroke="#555" stroke-width="0.6"/>
<line x1="98.00" y1="143.50" x2="99.80" y2="143.50" stroke="#555" stroke-width="0.6"/>
<line x1="220.40" y1="143.50" x2="218.60" y2="143.50" stroke="#555" stroke-width="0.6"/>
<text x="95.80" y="146.10" font-size="7.6" text-anchor="end" font-weight="normal" font-style="normal" fill="#111" stroke="#111" stroke-width="0.24">100</text>
<text x="113.60" y="241.80" font-size="8.0" text-anchor="middle" font-weight="normal" font-style="normal" fill="#111" stroke="#111" stroke-width="0.24">5.4</text>
<text x="135.00" y="241.80" font-size="8.0" text-anchor="middle" font-weight="normal" font-style="normal" fill="#111" stroke="#111" stroke-width="0.24">27</text>
<text x="163.90" y="241.80" font-size="8.0" text-anchor="middle" font-weight="normal" font-style="normal" fill="#111" stroke="#111" stroke-width="0.24">56</text>
<text x="206.10" y="241.80" font-size="8.0" text-anchor="middle" font-weight="normal" font-style="normal" fill="#111" stroke="#111" stroke-width="0.24">98</text>
<line x1="107.90" y1="233.50" x2="107.90" y2="232.00" stroke="#555" stroke-width="0.55"/>
<line x1="107.90" y1="135.00" x2="107.90" y2="136.50" stroke="#555" stroke-width="0.55"/>
<line x1="117.90" y1="233.50" x2="117.90" y2="232.50" stroke="#555" stroke-width="0.55"/>
<line x1="117.90" y1="135.00" x2="117.90" y2="136.00" stroke="#555" stroke-width="0.55"/>
<line x1="127.90" y1="233.50" x2="127.90" y2="232.00" stroke="#555" stroke-width="0.55"/>
<line x1="127.90" y1="135.00" x2="127.90" y2="136.50" stroke="#555" stroke-width="0.55"/>
<line x1="137.90" y1="233.50" x2="137.90" y2="232.50" stroke="#555" stroke-width="0.55"/>
<line x1="137.90" y1="135.00" x2="137.90" y2="136.00" stroke="#555" stroke-width="0.55"/>
<line x1="147.90" y1="233.50" x2="147.90" y2="232.00" stroke="#555" stroke-width="0.55"/>
<line x1="147.90" y1="135.00" x2="147.90" y2="136.50" stroke="#555" stroke-width="0.55"/>
<line x1="157.90" y1="233.50" x2="157.90" y2="232.50" stroke="#555" stroke-width="0.55"/>
<line x1="157.90" y1="135.00" x2="157.90" y2="136.00" stroke="#555" stroke-width="0.55"/>
<line x1="167.90" y1="233.50" x2="167.90" y2="232.00" stroke="#555" stroke-width="0.55"/>
<line x1="167.90" y1="135.00" x2="167.90" y2="136.50" stroke="#555" stroke-width="0.55"/>
<line x1="177.90" y1="233.50" x2="177.90" y2="232.50" stroke="#555" stroke-width="0.55"/>
<line x1="177.90" y1="135.00" x2="177.90" y2="136.00" stroke="#555" stroke-width="0.55"/>
<line x1="187.90" y1="233.50" x2="187.90" y2="232.00" stroke="#555" stroke-width="0.55"/>
<line x1="187.90" y1="135.00" x2="187.90" y2="136.50" stroke="#555" stroke-width="0.55"/>
<line x1="197.90" y1="233.50" x2="197.90" y2="232.50" stroke="#555" stroke-width="0.55"/>
<line x1="197.90" y1="135.00" x2="197.90" y2="136.00" stroke="#555" stroke-width="0.55"/>
<line x1="207.90" y1="233.50" x2="207.90" y2="232.00" stroke="#555" stroke-width="0.55"/>
<line x1="207.90" y1="135.00" x2="207.90" y2="136.50" stroke="#555" stroke-width="0.55"/>
<line x1="217.90" y1="233.50" x2="217.90" y2="232.50" stroke="#555" stroke-width="0.55"/>
<line x1="217.90" y1="135.00" x2="217.90" y2="136.00" stroke="#555" stroke-width="0.55"/>
<text x="150.30" y="247.80" font-size="8.0" text-anchor="middle" font-weight="normal" font-style="normal" fill="#111" stroke="#111" stroke-width="0.24">d (nm)</text>
<text x="84.60" y="186.70" font-size="8.3" text-anchor="middle" font-weight="normal" font-style="normal" fill="#111" stroke="#111" stroke-width="0.24" transform="rotate(-90 84.60 186.70)">M<tspan font-size="5.5" dy="1.92">s</tspan><tspan dy="-1.92">&#8203;</tspan> (emu/cm<tspan font-size="5.3" dy="-2.92">3</tspan><tspan dy="2.92">&#8203;</tspan>)</text>
<text x="73.70" y="132.30" font-size="11.0" text-anchor="start" font-weight="bold" font-style="normal" fill="#111" stroke="#111" stroke-width="0.12">(c)</text>
<rect x="123.60" y="138.10" width="12.20" height="5.30" fill="#0699ff"/>
<rect x="123.60" y="145.30" width="12.20" height="5.40" fill="#850004"/>
<text x="137.50" y="142.60" font-size="5.6" text-anchor="start" font-weight="normal" font-style="normal" fill="#111" stroke="#111" stroke-width="0.1">OOP</text>
<text x="137.50" y="150.10" font-size="5.6" text-anchor="start" font-weight="normal" font-style="normal" fill="#111" stroke="#111" stroke-width="0.1">IP</text>
<text x="159.80" y="147.30" font-size="7.3" text-anchor="start" font-weight="normal" font-style="normal" fill="#111" stroke="#111" stroke-width="0.24">as-grown samples</text>
<text x="108.40" y="150.30" font-size="6.0" text-anchor="start" font-weight="normal" font-style="normal" fill="#111" stroke="#111" stroke-width="0.18">&#215;1/4</text>
<text x="117.40" y="179.00" font-size="6.0" text-anchor="start" font-weight="normal" font-style="normal" fill="#111" stroke="#111" stroke-width="0.18">&#215;1/4</text>
<rect x="285.50" y="159.30" width="57.60" height="50.20" fill="none" stroke="#b4b4b4" stroke-width="0.6"/>
<polyline points="292.9,163.4 307.1,166.2 321.4,172.4 336.3,170.6" fill="none" stroke="#333" stroke-width="0.7"/>
<rect x="291.50" y="162.00" width="2.80" height="2.80" fill="#0a0a0a"/>
<rect x="305.70" y="164.80" width="2.80" height="2.80" fill="#0a0a0a"/>
<rect x="320.00" y="171.00" width="2.80" height="2.80" fill="#0a0a0a"/>
<rect x="334.90" y="169.20" width="2.80" height="2.80" fill="#0a0a0a"/>
<circle cx="304.8" cy="197.0" r="1.4" fill="#f01010"/>
<text x="305.90" y="203.80" font-size="5.3" text-anchor="middle" font-weight="normal" font-style="normal" fill="#111" stroke="#111" stroke-width="0.1">as-grown</text>
<text x="284.70" y="212.10" font-size="4.6" text-anchor="end" font-weight="normal" font-style="normal" fill="#111" stroke="#111" stroke-width="0.1">50</text>
<line x1="285.50" y1="210.60" x2="286.50" y2="210.60" stroke="#aaa" stroke-width="0.5"/>
<text x="284.70" y="202.60" font-size="4.6" text-anchor="end" font-weight="normal" font-style="normal" fill="#111" stroke="#111" stroke-width="0.1">60</text>
<line x1="285.50" y1="201.10" x2="286.50" y2="201.10" stroke="#aaa" stroke-width="0.5"/>
<text x="284.70" y="193.10" font-size="4.6" text-anchor="end" font-weight="normal" font-style="normal" fill="#111" stroke="#111" stroke-width="0.1">70</text>
<line x1="285.50" y1="191.60" x2="286.50" y2="191.60" stroke="#aaa" stroke-width="0.5"/>
<text x="284.70" y="183.60" font-size="4.6" text-anchor="end" font-weight="normal" font-style="normal" fill="#111" stroke="#111" stroke-width="0.1">80</text>
<line x1="285.50" y1="182.10" x2="286.50" y2="182.10" stroke="#aaa" stroke-width="0.5"/>
<text x="284.70" y="174.10" font-size="4.6" text-anchor="end" font-weight="normal" font-style="normal" fill="#111" stroke="#111" stroke-width="0.1">90</text>
<line x1="285.50" y1="172.60" x2="286.50" y2="172.60" stroke="#aaa" stroke-width="0.5"/>
<text x="284.70" y="164.60" font-size="4.6" text-anchor="end" font-weight="normal" font-style="normal" fill="#111" stroke="#111" stroke-width="0.1">100</text>
<line x1="285.50" y1="163.10" x2="286.50" y2="163.10" stroke="#aaa" stroke-width="0.5"/>
<text x="292.50" y="214.50" font-size="4.5" text-anchor="middle" font-weight="normal" font-style="normal" fill="#111" stroke="#111" stroke-width="0.1">700</text>
<line x1="293.00" y1="209.50" x2="293.00" y2="208.50" stroke="#aaa" stroke-width="0.5"/>
<text x="307.90" y="214.50" font-size="4.5" text-anchor="middle" font-weight="normal" font-style="normal" fill="#111" stroke="#111" stroke-width="0.1">800</text>
<line x1="307.50" y1="209.50" x2="307.50" y2="208.50" stroke="#aaa" stroke-width="0.5"/>
<text x="321.80" y="214.50" font-size="4.5" text-anchor="middle" font-weight="normal" font-style="normal" fill="#111" stroke="#111" stroke-width="0.1">900</text>
<line x1="322.00" y1="209.50" x2="322.00" y2="208.50" stroke="#aaa" stroke-width="0.5"/>
<text x="336.80" y="214.50" font-size="4.5" text-anchor="middle" font-weight="normal" font-style="normal" fill="#111" stroke="#111" stroke-width="0.1">1000</text>
<line x1="336.50" y1="209.50" x2="336.50" y2="208.50" stroke="#aaa" stroke-width="0.5"/>
<text x="316.30" y="220.60" font-size="5.0" text-anchor="middle" font-weight="normal" font-style="normal" fill="#111" stroke="#111" stroke-width="0.1">Annealed temperature (&#176;C)</text>
<text x="276.60" y="185.70" font-size="6.2" text-anchor="middle" font-weight="normal" font-style="normal" fill="#111" stroke="#111" stroke-width="0.15" transform="rotate(-90 276.60 185.70)">&#916;M/M (%)</text>
<rect x="263.30" y="159.96" width="5.70" height="73.54" fill="#0699ff"/>
<rect x="269.00" y="231.62" width="5.90" height="1.88" fill="#850004"/>
<rect x="293.70" y="226.27" width="5.70" height="7.23" fill="#0699ff"/>
<rect x="324.60" y="153.98" width="5.70" height="79.52" fill="#0699ff"/>
<rect x="330.30" y="225.32" width="5.90" height="8.18" fill="#850004"/>
<rect x="355.20" y="151.62" width="5.70" height="81.88" fill="#0699ff"/>
<rect x="360.90" y="226.74" width="5.90" height="6.76" fill="#850004"/>
<rect x="253.90" y="134.80" width="122.50" height="98.70" fill="none" stroke="#555" stroke-width="0.75"/>
<line x1="253.90" y1="233.20" x2="255.70" y2="233.20" stroke="#555" stroke-width="0.6"/>
<line x1="376.40" y1="233.20" x2="374.60" y2="233.20" stroke="#555" stroke-width="0.6"/>
<text x="252.20" y="235.80" font-size="7.6" text-anchor="end" font-weight="normal" font-style="normal" fill="#111" stroke="#111" stroke-width="0.24">0</text>
<line x1="253.90" y1="225.32" x2="255.00" y2="225.32" stroke="#555" stroke-width="0.6"/>
<line x1="376.40" y1="225.32" x2="375.30" y2="225.32" stroke="#555" stroke-width="0.6"/>
<line x1="253.90" y1="217.45" x2="255.70" y2="217.45" stroke="#555" stroke-width="0.6"/>
<line x1="376.40" y1="217.45" x2="374.60" y2="217.45" stroke="#555" stroke-width="0.6"/>
<text x="252.20" y="220.05" font-size="7.6" text-anchor="end" font-weight="normal" font-style="normal" fill="#111" stroke="#111" stroke-width="0.24">100</text>
<line x1="253.90" y1="209.57" x2="255.00" y2="209.57" stroke="#555" stroke-width="0.6"/>
<line x1="376.40" y1="209.57" x2="375.30" y2="209.57" stroke="#555" stroke-width="0.6"/>
<line x1="253.90" y1="201.70" x2="255.70" y2="201.70" stroke="#555" stroke-width="0.6"/>
<line x1="376.40" y1="201.70" x2="374.60" y2="201.70" stroke="#555" stroke-width="0.6"/>
<text x="252.20" y="204.30" font-size="7.6" text-anchor="end" font-weight="normal" font-style="normal" fill="#111" stroke="#111" stroke-width="0.24">200</text>
<line x1="253.90" y1="193.82" x2="255.00" y2="193.82" stroke="#555" stroke-width="0.6"/>
<line x1="376.40" y1="193.82" x2="375.30" y2="193.82" stroke="#555" stroke-width="0.6"/>
<line x1="253.90" y1="185.95" x2="255.70" y2="185.95" stroke="#555" stroke-width="0.6"/>
<line x1="376.40" y1="185.95" x2="374.60" y2="185.95" stroke="#555" stroke-width="0.6"/>
<text x="252.20" y="188.55" font-size="7.6" text-anchor="end" font-weight="normal" font-style="normal" fill="#111" stroke="#111" stroke-width="0.24">300</text>
<line x1="253.90" y1="178.07" x2="255.00" y2="178.07" stroke="#555" stroke-width="0.6"/>
<line x1="376.40" y1="178.07" x2="375.30" y2="178.07" stroke="#555" stroke-width="0.6"/>
<line x1="253.90" y1="170.20" x2="255.70" y2="170.20" stroke="#555" stroke-width="0.6"/>
<line x1="376.40" y1="170.20" x2="374.60" y2="170.20" stroke="#555" stroke-width="0.6"/>
<text x="252.20" y="172.80" font-size="7.6" text-anchor="end" font-weight="normal" font-style="normal" fill="#111" stroke="#111" stroke-width="0.24">400</text>
<line x1="253.90" y1="162.32" x2="255.00" y2="162.32" stroke="#555" stroke-width="0.6"/>
<line x1="376.40" y1="162.32" x2="375.30" y2="162.32" stroke="#555" stroke-width="0.6"/>
<line x1="253.90" y1="154.45" x2="255.70" y2="154.45" stroke="#555" stroke-width="0.6"/>
<line x1="376.40" y1="154.45" x2="374.60" y2="154.45" stroke="#555" stroke-width="0.6"/>
<text x="252.20" y="157.05" font-size="7.6" text-anchor="end" font-weight="normal" font-style="normal" fill="#111" stroke="#111" stroke-width="0.24">500</text>
<line x1="253.90" y1="146.57" x2="255.00" y2="146.57" stroke="#555" stroke-width="0.6"/>
<line x1="376.40" y1="146.57" x2="375.30" y2="146.57" stroke="#555" stroke-width="0.6"/>
<line x1="253.90" y1="138.70" x2="255.70" y2="138.70" stroke="#555" stroke-width="0.6"/>
<line x1="376.40" y1="138.70" x2="374.60" y2="138.70" stroke="#555" stroke-width="0.6"/>
<text x="252.20" y="141.30" font-size="7.6" text-anchor="end" font-weight="normal" font-style="normal" fill="#111" stroke="#111" stroke-width="0.24">600</text>
<line x1="269.30" y1="233.50" x2="269.30" y2="231.90" stroke="#555" stroke-width="0.6"/>
<line x1="269.30" y1="134.80" x2="269.30" y2="136.40" stroke="#555" stroke-width="0.6"/>
<text x="269.30" y="241.80" font-size="8.0" text-anchor="middle" font-weight="normal" font-style="normal" fill="#111" stroke="#111" stroke-width="0.24">700</text>
<line x1="284.50" y1="233.50" x2="284.50" y2="232.50" stroke="#555" stroke-width="0.5"/>
<line x1="284.50" y1="134.80" x2="284.50" y2="135.80" stroke="#555" stroke-width="0.5"/>
<line x1="299.75" y1="233.50" x2="299.75" y2="231.90" stroke="#555" stroke-width="0.6"/>
<line x1="299.75" y1="134.80" x2="299.75" y2="136.40" stroke="#555" stroke-width="0.6"/>
<text x="299.75" y="241.80" font-size="8.0" text-anchor="middle" font-weight="normal" font-style="normal" fill="#111" stroke="#111" stroke-width="0.24">800</text>
<line x1="314.95" y1="233.50" x2="314.95" y2="232.50" stroke="#555" stroke-width="0.5"/>
<line x1="314.95" y1="134.80" x2="314.95" y2="135.80" stroke="#555" stroke-width="0.5"/>
<line x1="330.20" y1="233.50" x2="330.20" y2="231.90" stroke="#555" stroke-width="0.6"/>
<line x1="330.20" y1="134.80" x2="330.20" y2="136.40" stroke="#555" stroke-width="0.6"/>
<text x="330.20" y="241.80" font-size="8.0" text-anchor="middle" font-weight="normal" font-style="normal" fill="#111" stroke="#111" stroke-width="0.24">900</text>
<line x1="345.40" y1="233.50" x2="345.40" y2="232.50" stroke="#555" stroke-width="0.5"/>
<line x1="345.40" y1="134.80" x2="345.40" y2="135.80" stroke="#555" stroke-width="0.5"/>
<line x1="360.65" y1="233.50" x2="360.65" y2="231.90" stroke="#555" stroke-width="0.6"/>
<line x1="360.65" y1="134.80" x2="360.65" y2="136.40" stroke="#555" stroke-width="0.6"/>
<text x="360.25" y="241.80" font-size="8.0" text-anchor="middle" font-weight="normal" font-style="normal" fill="#111" stroke="#111" stroke-width="0.24">1000</text>
<text x="315.20" y="249.50" font-size="8.25" text-anchor="middle" font-weight="normal" font-style="normal" fill="#111" stroke="#111" stroke-width="0.24">Annealed temperature (&#176;C)</text>
<text x="236.00" y="181.00" font-size="8.3" text-anchor="middle" font-weight="normal" font-style="normal" fill="#111" stroke="#111" stroke-width="0.24" transform="rotate(-90 236.00 181.00)">M<tspan font-size="5.5" dy="1.92">s</tspan><tspan dy="-1.92">&#8203;</tspan> (emu/cm<tspan font-size="5.3" dy="-2.92">3</tspan><tspan dy="2.92">&#8203;</tspan>)</text>
<text x="222.60" y="133.20" font-size="11.3" text-anchor="start" font-weight="normal" font-style="normal" fill="#111" stroke="#111" stroke-width="0.24">(d)</text>
<rect x="260.30" y="138.90" width="13.30" height="6.00" fill="#0699ff"/>
<rect x="260.30" y="146.60" width="13.30" height="6.00" fill="#850004"/>
<text x="275.20" y="144.10" font-size="5.9" text-anchor="start" font-weight="normal" font-style="normal" fill="#111" stroke="#111" stroke-width="0.1">OOP</text>
<text x="275.20" y="151.30" font-size="5.9" text-anchor="start" font-weight="normal" font-style="normal" fill="#111" stroke="#111" stroke-width="0.1">IP</text>
<text x="294.30" y="149.10" font-size="8.3" text-anchor="start" font-weight="normal" font-style="normal" fill="#111" stroke="#111" stroke-width="0.24">27 nm annealed</text>
</svg>
</body>
</html>
